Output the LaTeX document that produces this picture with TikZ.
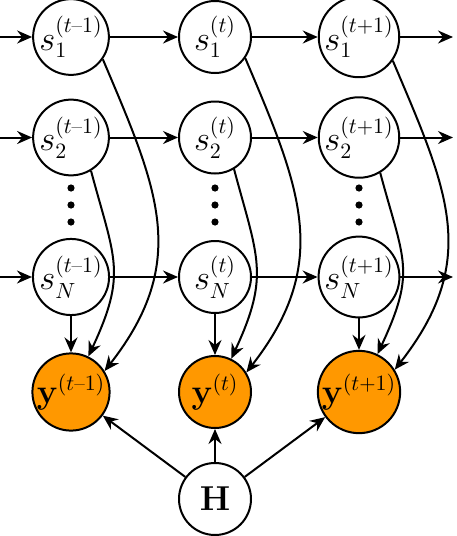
\documentclass[tikz,border=0pt]{standalone}
\usepackage{amsmath}
\usetikzlibrary{arrows.meta}
\definecolor{obsorange}{RGB}{255,152,0}
\DeclareMathSizes{16}{16}{10.5}{7}
\DeclareMathSizes{17}{17}{10.5}{7}

\begin{document}
\begin{tikzpicture}[x=0.5pt,y=-0.5pt,
    state/.style={circle, draw, line width=1pt, minimum size=36pt, inner sep=0pt, font=\fontsize{16}{19}\selectfont},
    obs/.style={state, fill=obsorange},
    arr/.style={-{Stealth[length=7.5pt,width=6.5pt,inset=2.5pt]}, line width=1pt}]
    \useasboundingbox (0,0) rectangle (456,536);

    % one column per time step: t-1, t, t+1
    \foreach \i/\x/\lab in {1/71/t\text{--}1, 2/215/t, 3/359/t\text{+}1} {
        \node[state] (s1-\i) at (\x,37) {$s_1^{(\lab)}$};
        \node[state] (s2-\i) at (\x,137.5) {$s_2^{(\lab)}$};
        \node[state] (sN-\i) at (\x,277) {$s_N^{(\lab)}$};
        \node[obs] (y-\i) at (\x,392) {$\mathbf{y}^{(\lab)}$};
        % vertical dots
        \foreach \d in {188,205,222}
            \fill (\x,\d) circle (1.8pt);
    }
    \node[state, font=\fontsize{17}{20}\selectfont] (H) at (215,499) {$\mathbf{H}$};

    % free ends of the chains
    \coordinate (in1) at (0,37);
    \coordinate (in2) at (0,137.5);
    \coordinate (inN) at (0,277);
    \coordinate (out1) at (453,37);
    \coordinate (out2) at (453,137.5);
    \coordinate (outN) at (453,277);

    % Markov chains
    \foreach \r in {1,2,N} {
        \draw[arr] (in\r) -- (s\r-1);
        \draw[arr] (s\r-1) -- (s\r-2);
        \draw[arr] (s\r-2) -- (s\r-3);
        \draw[arr] (s\r-3) -- (out\r);
    }

    % states to observation
    \foreach \i in {1,2,3} {
        \draw[arr] (s1-\i.-35) .. controls +(54.7,129) and +(86.2,-110.3) .. (y-\i.32);
        \draw[arr] (s2-\i.-59) .. controls +(23.8,88.9) and +(38.9,-83.4) .. (y-\i.64);
        \draw[arr] (sN-\i) -- (y-\i);
        \draw[arr] (H) -- (y-\i);
    }
\end{tikzpicture}
\end{document}
